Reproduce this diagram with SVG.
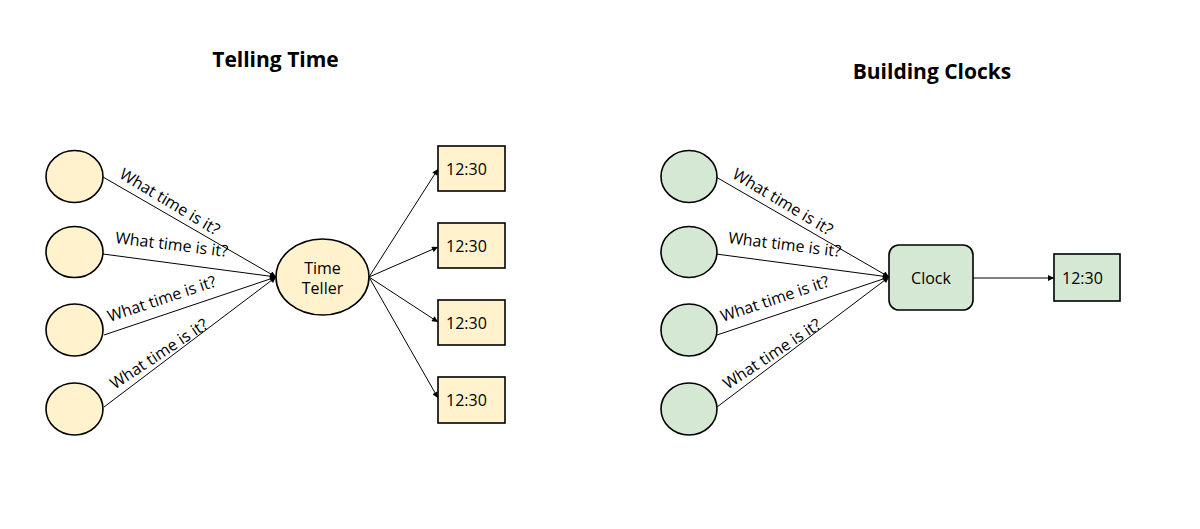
<svg xmlns="http://www.w3.org/2000/svg" width="1200" height="529" viewBox="0 0 1200 529">
<defs>
<marker id="arr" viewBox="0 0 10 10" refX="10" refY="5" markerWidth="7" markerHeight="6" markerUnits="userSpaceOnUse" orient="auto">
<path d="M0,0 L10,5 L0,10 z" fill="#000"/>
</marker>
<style>
.y{fill:#fff2cc;stroke:#000;stroke-width:1.6}
.g{fill:#d5e8d4;stroke:#000;stroke-width:1.6}
.t{font-family:"Open Sans","Noto Sans","DejaVu Sans",sans-serif;font-size:16px;fill:#000}
.h{font-family:"Open Sans","Noto Sans","DejaVu Sans",sans-serif;font-size:21px;font-weight:bold;fill:#000;text-anchor:middle}
.c{text-anchor:middle}
.e{stroke:#000;stroke-width:1;fill:none;marker-end:url(#arr)}
</style>
</defs>
<rect width="1200" height="529" fill="#fff"/>
<text class="h" x="275.5" y="67">Telling Time</text>
<text class="h" x="932" y="79">Building Clocks</text>

<g id="connectors">
<line class="e" x1="103" y1="177" x2="276" y2="277"/>
<line class="e" x1="103" y1="254" x2="276" y2="277"/>
<line class="e" x1="104" y1="335" x2="276" y2="277"/>
<line class="e" x1="104" y1="407" x2="276" y2="277"/>
<line class="e" x1="369" y1="277" x2="438" y2="169"/>
<line class="e" x1="369" y1="277" x2="438" y2="247"/>
<line class="e" x1="369" y1="277" x2="438" y2="322"/>
<line class="e" x1="369" y1="277" x2="438" y2="398"/>
<line class="e" x1="716" y1="177" x2="889" y2="277"/>
<line class="e" x1="716" y1="254" x2="889" y2="277"/>
<line class="e" x1="717" y1="335" x2="889" y2="277"/>
<line class="e" x1="717" y1="407" x2="889" y2="277"/>
<line class="e" x1="973" y1="278" x2="1054" y2="278"/>
<text class="t c" transform="translate(167,206.5) rotate(31)">What time is it?</text>
<text class="t c" transform="translate(171,250) rotate(7)">What time is it?</text>
<text class="t c" transform="translate(163.5,304) rotate(-18.5)">What time is it?</text>
<text class="t c" transform="translate(162,358.5) rotate(-33.5)">What time is it?</text>
<text class="t c" transform="translate(780,206.5) rotate(31)">What time is it?</text>
<text class="t c" transform="translate(784,250) rotate(7)">What time is it?</text>
<text class="t c" transform="translate(776.5,304) rotate(-18.5)">What time is it?</text>
<text class="t c" transform="translate(775,358.5) rotate(-33.5)">What time is it?</text>
</g>

<g id="l-c1"><ellipse class="y" cx="74.5" cy="176.5" rx="28.5" ry="26"/></g>
<g id="l-c2"><ellipse class="y" cx="74.5" cy="252" rx="28.5" ry="25.5"/></g>
<g id="l-c3"><ellipse class="y" cx="74.5" cy="330" rx="28.5" ry="26"/></g>
<g id="l-c4"><ellipse class="y" cx="74.5" cy="409" rx="28.5" ry="26"/></g>

<g id="time-teller"><ellipse class="y" cx="322.5" cy="277" rx="46.5" ry="38"/>
<text class="t c" x="322.5" y="274">Time</text>
<text class="t c" x="322.5" y="294">Teller</text></g>

<g id="l-b1"><rect class="y" x="438" y="146" width="67" height="45"/><text class="t" x="446" y="174.5">12:30</text></g>
<g id="l-b2"><rect class="y" x="438" y="223" width="67" height="45"/><text class="t" x="446" y="251.5">12:30</text></g>
<g id="l-b3"><rect class="y" x="438" y="300" width="67" height="45"/><text class="t" x="446" y="328.5">12:30</text></g>
<g id="l-b4"><rect class="y" x="438" y="377" width="67" height="46"/><text class="t" x="446" y="406">12:30</text></g>

<g id="r-c1"><ellipse class="g" cx="689" cy="176.5" rx="28" ry="26"/></g>
<g id="r-c2"><ellipse class="g" cx="689" cy="252" rx="28" ry="25.5"/></g>
<g id="r-c3"><ellipse class="g" cx="689" cy="330" rx="28" ry="26"/></g>
<g id="r-c4"><ellipse class="g" cx="689" cy="409" rx="28" ry="26"/></g>

<g id="clock"><rect class="g" x="889" y="245" width="84" height="65" rx="10" ry="10"/>
<text class="t c" x="931" y="284">Clock</text></g>

<g id="r-b1"><rect class="g" x="1054" y="254" width="66" height="47"/><text class="t" x="1062" y="284">12:30</text></g>
</svg>
